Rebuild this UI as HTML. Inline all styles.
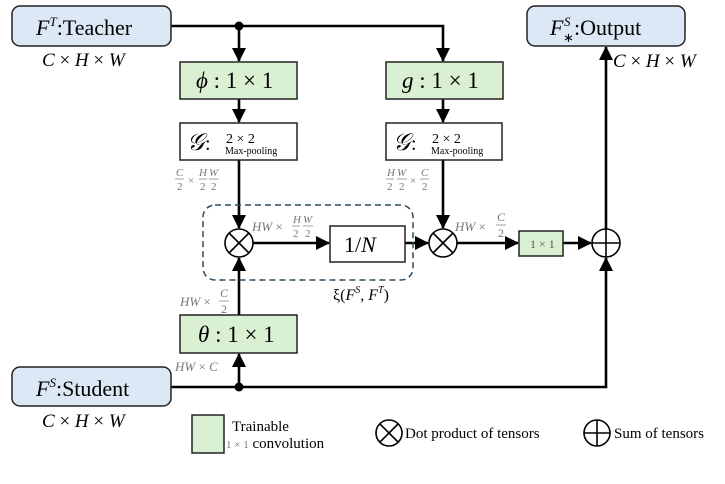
<!DOCTYPE html>
<html><head><meta charset="utf-8"><style>
html,body{margin:0;padding:0;background:#fff;}
svg{display:block;}
text{font-family:"Liberation Serif",serif;}
.it{font-style:italic;}
.g{fill:#777;}
</style></head><body>
<svg width="725" height="484" viewBox="0 0 725 484" xmlns="http://www.w3.org/2000/svg">
<defs>
<marker id="b" markerWidth="14" markerHeight="14" refX="13" refY="7" orient="auto" markerUnits="userSpaceOnUse">
<path d="M0,0 L14,7 L0,14 z" fill="#000"/>
</marker>
</defs>
<g stroke="#000" stroke-width="2.6" fill="none">
<path d="M171,26 H443 V61" marker-end="url(#b)"/>
<path d="M239,26 V61" marker-end="url(#b)"/>
<path d="M239,99 V122" marker-end="url(#b)"/>
<path d="M443,99 V122" marker-end="url(#b)"/>
<path d="M239,160 V228" marker-end="url(#b)"/>
<path d="M443,160 V228" marker-end="url(#b)"/>
<path d="M253,243 H329" marker-end="url(#b)"/>
<path d="M405,243 H428" marker-end="url(#b)"/>
<path d="M457,243 H518" marker-end="url(#b)"/>
<path d="M563,243 H591" marker-end="url(#b)"/>
<path d="M606,229 V47" marker-end="url(#b)"/>
<path d="M171,387 H606 V258" marker-end="url(#b)"/>
<path d="M239,387 V354" marker-end="url(#b)"/>
<path d="M239,315 V258" marker-end="url(#b)"/>
</g>
<circle cx="239" cy="26" r="4.5" fill="#000"/>
<circle cx="239" cy="387" r="4.5" fill="#000"/>
<rect x="203" y="205" width="210" height="75" rx="12" fill="none" stroke="#2b4a5e" stroke-width="1.5" stroke-dasharray="6,4"/>
<g stroke="#222" stroke-width="1.5">
<rect x="12" y="6" width="159" height="40" rx="8" fill="#dce8f5"/>
<rect x="527" y="6" width="158" height="40" rx="8" fill="#dce8f5"/>
<rect x="12" y="367" width="159" height="39" rx="8" fill="#dce8f5"/>
<rect x="180" y="62" width="117" height="37" fill="#d9f0d2"/>
<rect x="386" y="62" width="117" height="37" fill="#d9f0d2"/>
<rect x="180" y="123" width="117" height="37" fill="#fff"/>
<rect x="386" y="123" width="116" height="37" fill="#fff"/>
<rect x="180" y="315" width="117" height="38" fill="#d9f0d2"/>
<rect x="330" y="226" width="75" height="36" fill="#fff"/>
<rect x="519" y="231" width="44" height="25" fill="#d9f0d2"/>
<rect x="192" y="415" width="32" height="38" fill="#d9f0d2"/>
</g>
<g stroke="#000" stroke-width="1.6" fill="#fff">
<circle cx="239" cy="243" r="14"/><path d="M229,233 L249,253 M249,233 L229,253"/>
<circle cx="443" cy="243" r="14"/><path d="M433,233 L453,253 M453,233 L433,253"/>
<circle cx="606" cy="243" r="14"/><path d="M592,243 H620 M606,229 V257"/>
<circle cx="389" cy="433" r="13"/><path d="M380,424 L398,442 M398,424 L380,442"/>
<circle cx="597" cy="433" r="13"/><path d="M584,433 H610 M597,420 V446"/>
</g>
<text x="36" y="35" font-size="22"><tspan class="it">F</tspan><tspan font-size="13" dy="-9" class="it">T</tspan><tspan dy="9">:Teacher</tspan></text>
<text x="42" y="66" font-size="19" class="it">C <tspan font-style="normal">×</tspan> H <tspan font-style="normal">×</tspan> W</text>
<text x="550" y="35" font-size="22" class="it">F</text>
<text x="564" y="26" font-size="13" class="it">S</text>
<text x="563" y="42" font-size="13">∗</text>
<text x="574" y="35" font-size="22">:Output</text>
<text x="613" y="67" font-size="19" class="it">C <tspan font-style="normal">×</tspan> H <tspan font-style="normal">×</tspan> W</text>
<text x="36" y="396" font-size="22"><tspan class="it">F</tspan><tspan font-size="13" dy="-9" class="it">S</tspan><tspan dy="9">:Student</tspan></text>
<text x="42" y="427" font-size="19" class="it">C <tspan font-style="normal">×</tspan> H <tspan font-style="normal">×</tspan> W</text>
<text x="196" y="88" font-size="23"><tspan class="it">ϕ</tspan> : 1 × 1</text>
<text x="402" y="88" font-size="23"><tspan class="it">g</tspan> : 1 × 1</text>
<text x="198" y="342" font-size="23"><tspan class="it">θ</tspan> : 1 × 1</text>
<text x="187" y="150" font-size="24" class="it">𝒢</text>
<text x="205" y="150" font-size="20">:</text>
<text x="226" y="143" font-size="14">2 × 2</text>
<text x="225" y="154" font-size="10">Max-pooling</text>
<text x="393" y="150" font-size="24" class="it">𝒢</text>
<text x="411" y="150" font-size="20">:</text>
<text x="432" y="143" font-size="14">2 × 2</text>
<text x="431" y="154" font-size="10">Max-pooling</text>
<text x="344" y="252" font-size="22">1/<tspan class="it">N</tspan></text>
<text x="530" y="248" font-size="12" fill="#555">1 × 1</text>
<text x="333" y="300" font-size="16">ξ(<tspan class="it">F</tspan><tspan font-size="10" dy="-7" class="it">S</tspan><tspan dy="7">, </tspan><tspan class="it">F</tspan><tspan font-size="10" dy="-7" class="it">T</tspan><tspan dy="7">)</tspan></text>
<g class="g" font-size="11">
<text x="176" y="176" class="it">C</text><line x1="175" y1="179" x2="184" y2="179" stroke="#777" stroke-width="0.7"/><text x="177" y="190">2</text>
<text x="188" y="184">×</text>
<text x="199" y="176" class="it">H</text><line x1="199" y1="179" x2="207" y2="179" stroke="#777" stroke-width="0.7"/><text x="200" y="190">2</text>
<text x="209" y="176" class="it">W</text><line x1="209" y1="179" x2="219" y2="179" stroke="#777" stroke-width="0.7"/><text x="211" y="190">2</text>
<text x="387" y="176" class="it">H</text><line x1="386" y1="179" x2="394" y2="179" stroke="#777" stroke-width="0.7"/><text x="387" y="190">2</text>
<text x="397" y="176" class="it">W</text><line x1="397" y1="179" x2="407" y2="179" stroke="#777" stroke-width="0.7"/><text x="399" y="190">2</text>
<text x="410" y="184">×</text>
<text x="421" y="176" class="it">C</text><line x1="420" y1="179" x2="429" y2="179" stroke="#777" stroke-width="0.7"/><text x="422" y="190">2</text>
<text x="252" y="231" font-size="13" class="it">HW <tspan font-style="normal">×</tspan></text>
<text x="293" y="223" class="it">H</text><line x1="292" y1="226" x2="300" y2="226" stroke="#777" stroke-width="0.7"/><text x="293" y="237">2</text>
<text x="303" y="223" class="it">W</text><line x1="303" y1="226" x2="313" y2="226" stroke="#777" stroke-width="0.7"/><text x="305" y="237">2</text>
<text x="455" y="231" font-size="13" class="it">HW <tspan font-style="normal">×</tspan></text>
<text x="497" y="221" font-size="12" class="it">C</text><line x1="496" y1="225" x2="506" y2="225" stroke="#777" stroke-width="0.7"/><text x="498" y="237" font-size="12">2</text>
<text x="180" y="306" font-size="13" class="it">HW <tspan font-style="normal">×</tspan></text>
<text x="220" y="297" font-size="12" class="it">C</text><line x1="219" y1="301" x2="229" y2="301" stroke="#777" stroke-width="0.7"/><text x="221" y="313" font-size="12">2</text>
<text x="175" y="371" font-size="13" class="it">HW <tspan font-style="normal">×</tspan> C</text>
</g>
<text x="232" y="431" font-size="15">Trainable</text>
<text x="226" y="448" font-size="15"><tspan fill="#777" font-size="11">1 × 1</tspan> convolution</text>
<text x="405" y="438" font-size="15">Dot product of tensors</text>
<text x="614" y="438" font-size="15">Sum of tensors</text>
</svg>
</body></html>
